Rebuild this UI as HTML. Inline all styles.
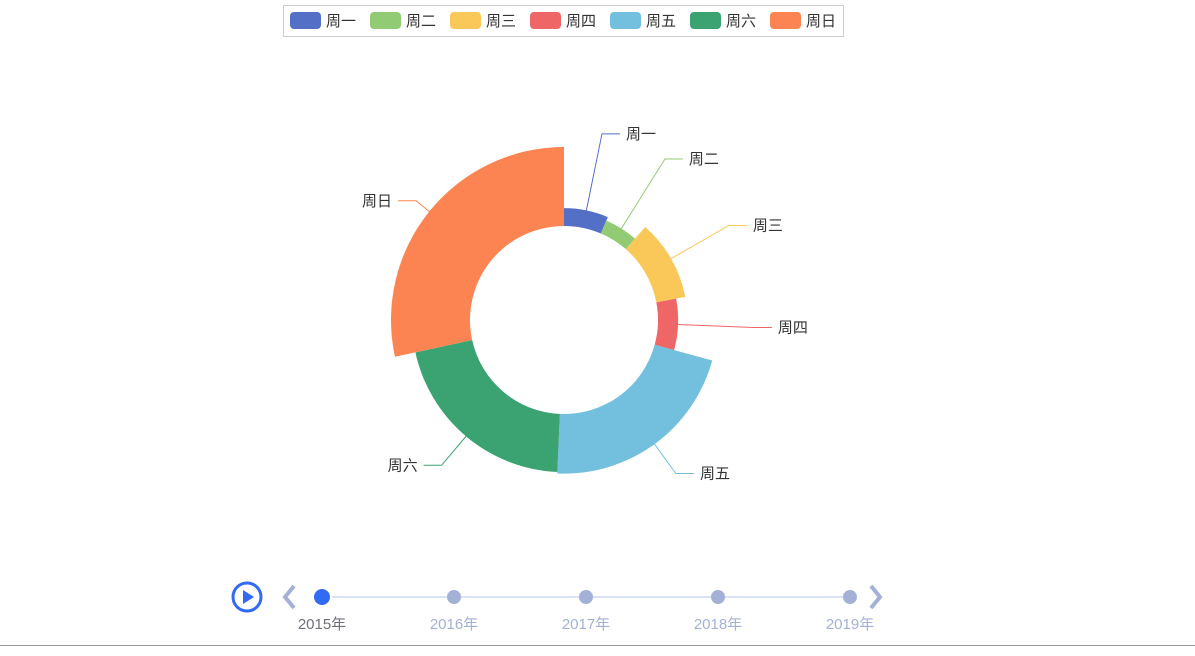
<!DOCTYPE html>
<html><head><meta charset="utf-8">
<style>
html,body{margin:0;padding:0;background:#fff;}
body{width:1195px;height:651px;overflow:hidden;font-family:"Liberation Sans","Noto Sans CJK SC",sans-serif;}
</style></head>
<body>
<svg id="chart" width="1195" height="651" xmlns="http://www.w3.org/2000/svg" font-family="Liberation Sans, Noto Sans CJK SC, sans-serif">
  <g id="legend">
    <rect x="283.5" y="5.5" width="560" height="31" fill="none" stroke="#ccc"/>
  </g>
  <g id="pie"></g>
  <g id="labels"></g>
  <g id="timeline">
    <line x1="322" y1="597" x2="850" y2="597" stroke="#dae1f5" stroke-width="2"/>
    <g>
      <circle cx="247" cy="597" r="14" fill="none" stroke="#316bf3" stroke-width="3"/>
      <path d="M243,590 L254,597 L243,604 Z" fill="#316bf3"/>
    </g>
    <path d="M294,586 L285,597 L294,608" fill="none" stroke="#a4b1d7" stroke-width="4"/>
    <path d="M871,586 L880,597 L871,608" fill="none" stroke="#a4b1d7" stroke-width="4"/>
  </g>
  <line x1="0" y1="645.5" x2="1195" y2="645.5" stroke="#999"/>
</svg>
<script>
const categories = ['周一','周二','周三','周四','周五','周六','周日'];
const values = [23, 18, 38, 26, 77, 75, 102];
const colors = ['#5470c6','#91cc75','#fac858','#ee6666','#73c0de','#3ba272','#fc8452'];
const years = ['2015年','2016年','2017年','2018年','2019年'];
const currentYear = 0;

const NS = 'http://www.w3.org/2000/svg';
const cx = 564, cy = 320, r0 = 94, r1 = 173;
function mk(tag, attrs, parent){const e=document.createElementNS(NS,tag);for(const k in attrs)e.setAttribute(k,attrs[k]);parent.appendChild(e);return e;}
const total = values.reduce((a,b)=>a+b,0);
const maxV = Math.max(...values);
function angleScale(v){return v/total*Math.PI*2;}
function radiusScale(v){return r0+(r1-r0)*v/maxV;}
function pt(a,r){return [cx+r*Math.sin(a), cy-r*Math.cos(a)];}

// legend
const legend = document.getElementById('legend');
let lx = 290;
categories.forEach((c,i)=>{
  const g = mk('g',{},legend);
  
  
  mk('rect',{x:lx,y:12,width:31,height:17,rx:4,fill:colors[i]},g);
  const t = mk('text',{x:lx+36,y:26,'font-size':15,fill:'#333'},g);
  t.textContent = c;
  lx += 80;
});

// pie
const pie = document.getElementById('pie');
const labels = document.getElementById('labels');
let a = 0;
values.forEach((v,i)=>{
  const da = angleScale(v), ro = radiusScale(v), a2 = a+da;
  const large = da>Math.PI?1:0;
  const p1=pt(a,ro),p2=pt(a2,ro),p3=pt(a2,r0),p4=pt(a,r0);
  const d=`M${p1[0]},${p1[1]} A${ro},${ro} 0 ${large} 1 ${p2[0]},${p2[1]} L${p3[0]},${p3[1]} A${r0},${r0} 0 ${large} 0 ${p4[0]},${p4[1]} Z`;
  const path = mk('path',{d:d,fill:colors[i]},pie);
  
  
  const m = a+da/2;
  const s = pt(m,ro-4), e = pt(m,190);
  const right = Math.sin(m)>=0;
  const ex = e[0]+(right?18:-18);
  const line = mk('polyline',{points:`${s[0]},${s[1]} ${e[0]},${e[1]} ${ex},${e[1]}`,fill:'none',stroke:colors[i],'stroke-width':1},labels);
  
  
  const t = mk('text',{x:ex+(right?6:-6),y:e[1]+5,'font-size':15,fill:'#333','text-anchor':right?'start':'end'},labels);
  
  
  t.textContent = categories[i];
  a = a2;
});

// timeline
const tl = document.getElementById('timeline');
years.forEach((y,i)=>{
  const x = 322 + i*132;
  const c = mk('circle',{cx:x,cy:597,r:i===currentYear?9:7,fill:i===currentYear?'#316bf3':'#a4b1d7',stroke:i===currentYear?'#fff':'none','stroke-width':2},tl);
  
  
  const t = mk('text',{x:x,y:629,'font-size':15,fill:i===currentYear?'#6e7079':'#a4b1d7','text-anchor':'middle'},tl);
  
  
  t.textContent = y;
});
</script>
</body></html>
